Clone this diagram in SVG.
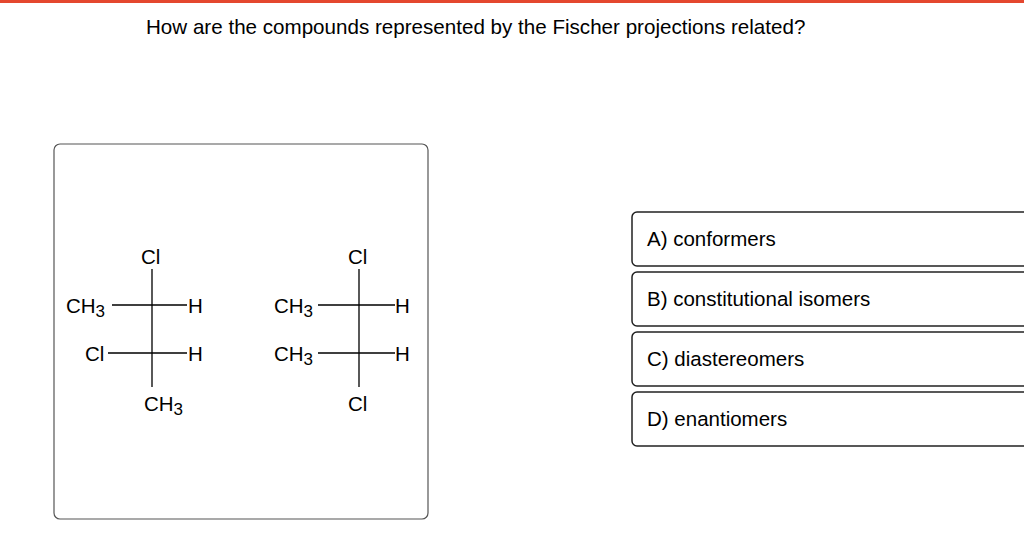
<svg xmlns="http://www.w3.org/2000/svg" width="1024" height="538" viewBox="0 0 1024 538">
<style>
text{font-family:"Liberation Sans",Arial,sans-serif;fill:#000}
.t{font-size:20.6px}
.c{font-size:20.5px}
.s{font-size:17px}
.o{font-size:20.5px}
.b{stroke:#000;stroke-width:1.3;fill:none}
.opt{fill:#fff;stroke:#222;stroke-width:1.5}
</style>
<rect width="1024" height="538" fill="#fff"/>
<rect x="0" y="0" width="1024" height="3" fill="#e4472f"/>
<text class="t" x="146" y="34">How are the compounds represented by the Fischer projections related?</text>
<rect x="54" y="144" width="374" height="375" rx="6" fill="#fff" stroke="#555" stroke-width="1.2"/>
<g id="connectors">
<path class="b" d="M152 269V387M112 305H187M108 353H187M359 269V387M318 305H395M318 353H395"/>
</g>
<g id="mol1">
<text class="c" x="141" y="264">Cl</text>
<text class="c" x="66" y="313">CH<tspan class="s" dy="4">3</tspan></text>
<text class="c" x="188" y="313">H</text>
<text class="c" x="85" y="361">Cl</text>
<text class="c" x="188" y="361">H</text>
<text class="c" x="144" y="411">CH<tspan class="s" dy="4">3</tspan></text>
</g>
<g id="mol2">
<text class="c" x="348" y="264">Cl</text>
<text class="c" x="274" y="313">CH<tspan class="s" dy="4">3</tspan></text>
<text class="c" x="395" y="313">H</text>
<text class="c" x="274" y="361">CH<tspan class="s" dy="4">3</tspan></text>
<text class="c" x="395" y="361">H</text>
<text class="c" x="348" y="411">Cl</text>
</g>
<g id="optA"><rect class="opt" x="632" y="212" width="420" height="54" rx="5"/><text class="o" x="647" y="246">A) conformers</text></g>
<g id="optB"><rect class="opt" x="632" y="272" width="420" height="54" rx="5"/><text class="o" x="647" y="306">B) constitutional isomers</text></g>
<g id="optC"><rect class="opt" x="632" y="332" width="420" height="54" rx="5"/><text class="o" x="647" y="366">C) diastereomers</text></g>
<g id="optD"><rect class="opt" x="632" y="392" width="420" height="54" rx="5"/><text class="o" x="647" y="426">D) enantiomers</text></g>
</svg>
